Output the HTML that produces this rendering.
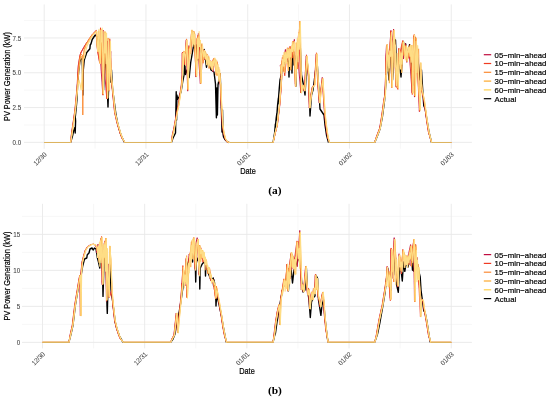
<!DOCTYPE html>
<html><head><meta charset="utf-8"><style>
html,body{margin:0;padding:0;background:#fff;width:550px;height:400px;overflow:hidden}
svg{display:block}
.gM{stroke:#e9e9e9;stroke-width:0.9}
.gm{stroke:#f2f2f2;stroke-width:0.6}
.sl{fill:none;stroke-width:0.95;stroke-linejoin:round;stroke-linecap:butt}
.tk{font-family:"Liberation Sans",sans-serif;font-size:6.8px;fill:#3c3c3c;stroke:#3c3c3c;stroke-width:0.05px}
.tt{font-family:"Liberation Sans",sans-serif;font-size:8.2px;fill:#000;stroke:#000;stroke-width:0.2px}
.lg{font-family:"Liberation Sans",sans-serif;font-size:7.9px;fill:#000;stroke:#000;stroke-width:0.2px}
.pl{font-family:"Liberation Serif",serif;font-size:11.4px;font-weight:bold;fill:#000}
.pn{font-weight:bold}
.tx{filter:url(#bl)}
</style></head><body>
<svg width="550" height="400" viewBox="0 0 550 400">
<defs><filter id="bl" x="-5%" y="-5%" width="110%" height="110%"><feGaussianBlur stdDeviation="0.35"/></filter><filter id="bl2" x="0" y="0" width="100%" height="100%" filterUnits="userSpaceOnUse"><feGaussianBlur stdDeviation="0.3"/></filter></defs>
<rect width="550" height="400" fill="#fff"/>
<line x1="24" x2="471.9" y1="124.95" y2="124.95" class="gm"/>
<line x1="24" x2="471.9" y1="90.15" y2="90.15" class="gm"/>
<line x1="24" x2="471.9" y1="55.35" y2="55.35" class="gm"/>
<line x1="24" x2="471.9" y1="20.55" y2="20.55" class="gm"/>
<line x1="95.08" x2="95.08" y1="4.4" y2="148.7" class="gm"/>
<line x1="196.84" x2="196.84" y1="4.4" y2="148.7" class="gm"/>
<line x1="298.6" x2="298.6" y1="4.4" y2="148.7" class="gm"/>
<line x1="400.36" x2="400.36" y1="4.4" y2="148.7" class="gm"/>
<line x1="24" x2="471.9" y1="142.35" y2="142.35" class="gM"/>
<line x1="24" x2="471.9" y1="107.55" y2="107.55" class="gM"/>
<line x1="24" x2="471.9" y1="72.75" y2="72.75" class="gM"/>
<line x1="24" x2="471.9" y1="37.95" y2="37.95" class="gM"/>
<line x1="44.2" x2="44.2" y1="4.4" y2="148.7" class="gM"/>
<line x1="145.96" x2="145.96" y1="4.4" y2="148.7" class="gM"/>
<line x1="247.72" x2="247.72" y1="4.4" y2="148.7" class="gM"/>
<line x1="349.48" x2="349.48" y1="4.4" y2="148.7" class="gM"/>
<line x1="451.24" x2="451.24" y1="4.4" y2="148.7" class="gM"/>
<line x1="22.06" x2="471.9" y1="324.4" y2="324.4" class="gm"/>
<line x1="22.06" x2="471.9" y1="288.4" y2="288.4" class="gm"/>
<line x1="22.06" x2="471.9" y1="252.4" y2="252.4" class="gm"/>
<line x1="22.06" x2="471.9" y1="216.4" y2="216.4" class="gm"/>
<line x1="93.59" x2="93.59" y1="203.8" y2="348.4" class="gm"/>
<line x1="195.78" x2="195.78" y1="203.8" y2="348.4" class="gm"/>
<line x1="297.98" x2="297.98" y1="203.8" y2="348.4" class="gm"/>
<line x1="400.16" x2="400.16" y1="203.8" y2="348.4" class="gm"/>
<line x1="22.06" x2="471.9" y1="342.4" y2="342.4" class="gM"/>
<line x1="22.06" x2="471.9" y1="306.4" y2="306.4" class="gM"/>
<line x1="22.06" x2="471.9" y1="270.4" y2="270.4" class="gM"/>
<line x1="22.06" x2="471.9" y1="234.4" y2="234.4" class="gM"/>
<line x1="42.5" x2="42.5" y1="203.8" y2="348.4" class="gM"/>
<line x1="144.69" x2="144.69" y1="203.8" y2="348.4" class="gM"/>
<line x1="246.88" x2="246.88" y1="203.8" y2="348.4" class="gM"/>
<line x1="349.07" x2="349.07" y1="203.8" y2="348.4" class="gM"/>
<line x1="451.26" x2="451.26" y1="203.8" y2="348.4" class="gM"/>
<g filter="url(#bl2)">
<path d="M70.6,142.5 72.5,136 73.8,130 74.9,127.5 75.2,133 75.6,121 75.3,117 76.2,108 76.9,100 77.6,85 78.6,72 79.8,62 81,58 82.2,60 82.6,75 82.9,95 83.3,70 84.25,60 86.75,52.5 89.9,48.75 90.2,45 91,43.75 92.2,39.5 95.2,35 96.7,36.5 98,50 99,40 100.5,60 102,45 103.5,90 105,50 106.5,75 107.5,95 108,107 109,75 110.5,82 111.5,70 112.5,88 114,100 116,115 118,125 121,135 124.5,142.5M171.4,142.5 173,138 174.5,135 175.5,133 175.9,110 176.2,91.7 176.6,120 176.9,95 177.7,99.2 179,97 181,92 183,80 184,75 184.7,62.5 185.5,74.5 187,70 189.2,77.5 190.7,62.5 192,55 193.7,44.5 194.5,48 196,45 197.5,60 199,45 201,52 204.2,49.5 206.5,67.2 208,58 211,70 214,72 215.5,84 216.4,117.8 216.9,88 217.4,115 218,85 220.2,73.75 220.9,95 221.4,110 222,132 222.5,110 223,134 223.5,137 224.9,139.4 227,141.5 229,142.5M273.1,142.5 273.8,138 274.6,133 275.4,124 275.1,130 276.2,118 276.9,113 276.5,120 277.6,105 278.4,98 278.1,104 279.3,88 280,80 281,76 283,66 285,60 287,58 288.6,62 289,77 289.4,62 291.5,55 292,73 292.4,55 293.8,55 294,65 294.4,55 295.6,60 296,86 296.4,60 298,50 300,40 301.5,75 303.5,85 305,95 307,60 309,80 310,116 311.5,95 313,90 317,60 320,109 322,112 324,115 325,125 326.5,135 328.5,142.5M374.7,142.5 377,137 380,129 382.5,116 384.5,101 386,82 387.5,55 389,80 391,45 392.5,80 394,50 395.5,40 397,80 399,60 401,77 403,50 403.4,41.5 405,55 405.6,43.8 407.5,55 409.6,44.6 411,55 413,85 414.5,40 416,45 418,60 420,80 421.5,70 423,95 423.8,106 425,108 427,120 429,132 431.5,142.5" stroke="#000" class="sl" style="stroke-width:1.4px"/>
<path d="M44.2,142.5 70.6,142.5 71.28,135 72.28,128 73.78,118 75.08,108 75.8,100 77,88 78.2,66 79.5,58 80.5,53.75 83.6,47.5 86.75,42.5 89.9,39.5 93,34 96.2,30.5 96.34,31.34 97.47,50.18 99.61,62.27 99.98,52.58 102.8,94.48 103.1,30.04 104.35,69.06 106.8,98.86 107.78,40.87 108.83,91.22 110.72,51.22 111.18,78.4 112.78,95 114.58,112.5 116.98,123 118.78,129 120.28,134 122.28,139 125,142.5 171.4,142.5 172.28,135 173.88,128 175.28,120 176.78,112 178.28,105 179.78,95 181.28,85 182.08,75 182.27,52.59 183.09,52.27 184.49,64.01 186.29,39.96 187.68,91.13 188.92,45.61 190.44,53.97 191.62,31.08 194.68,33.56 195.9,77.06 196.7,54.76 198.42,33.4 198.63,58.35 200.36,83.76 201.22,44.21 204.33,59.87 205.8,53.4 208.49,65.11 210.13,60.66 213.08,71.94 213.88,59.03 214.93,59.05 217.33,70.91 220.28,83.4 220.78,100 221.58,112 222.28,125 223.48,133 225.08,139 226.78,141.8 229.6,142.5 273.1,142.5 275.4,133 277.4,125 278.6,115 279.8,105 280.6,95 281.4,85 281.9,73.4 280.16,65.34 283.06,62.72 285.42,49.43 287.26,62.2 288.89,47.89 291.68,58.7 294.36,39.35 295.42,84.19 297.23,51.22 300.88,93 302.28,85 304.28,91 306.28,56 308.28,75 309.28,108 310.78,95 312.28,87 314.28,85 316.28,54 317.78,85 319.28,103 320.78,90 322.28,77.4 323.28,95 324.28,110 325.28,121 326.58,131 327.68,138 329.6,142.5 374.7,142.5 376.28,137 379.68,128 381.78,115 383.78,100 384.78,95 385.58,75 385.5,60.93 386.51,45.2 388.7,64.3 390.91,30.37 391.62,86.66 391.99,44.94 393.57,29.01 396.13,87.14 396.67,65.46 397.71,88.4 398.66,49.43 400.77,52.49 402.86,40.94 403.37,59.06 405.49,43.54 406.82,62.35 408.57,47.06 410.29,66.98 412.1,92.8 413.97,35.99 414.47,97.08 415.09,40.74 417.53,67.05 419.36,111.56 421.21,71.08 421.58,90 422.68,95 423.78,100 425.18,110 426.78,122 428.38,132 431.6,142.5 451.24,142.5" stroke="#C0103F" class="sl" style="stroke-width:0.9px"/>
<path d="M44.2,142.5 70.6,142.5 71.46,135 72.46,128 73.96,118 75.26,108 76,100 77.2,88 78.3,68 79.8,56 81,52 83,49 86,44 89,39 92.5,34 96.3,30.5 96.55,39.92 97.58,50.49 99.64,62.66 100.49,27.78 103.01,95.19 103.58,69.77 104.94,33.24 107.02,98.31 107.84,55.91 108.96,89.86 109.74,38.8 111.36,78.8 112.96,95 114.76,112.5 117.16,123 118.96,129 120.46,134 122.46,139 125,142.5 171.4,142.5 172.46,135 174.06,128 175.46,120 176.96,112 178.46,105 179.96,95 181.46,85 182.26,75 182.24,53.06 183.6,51.56 184.66,64.77 186.49,38.93 187.72,90.19 188.7,47.31 190.71,51.68 191.57,31.13 193.8,31.53 195.42,49.04 196.01,74.71 197.55,35.6 198.98,34.5 200.77,81.81 202.12,61.22 203.23,49.23 205.7,59.53 207.68,55.27 210.04,66.81 212.17,60.88 214.33,58.02 215.51,68.42 217.08,61.65 219.31,81.28 220.46,85 220.96,100 221.76,112 222.46,125 223.66,133 225.26,139 226.96,141.8 229.6,142.5 273.1,142.5 275.3,133 277.3,125 278.5,115 279.7,105 280.5,95 281.3,85 281.8,75 280.63,79.29 282.35,57.53 284.75,75.76 287.38,48.93 288.75,56.98 290.04,46.2 292.22,58.03 293.5,41.32 295.46,86.32 296.59,56.22 298.69,32.77 301.06,93 302.46,85 304.46,91 306.46,54.8 308.46,75 309.46,108 310.96,95 312.46,87 314.46,85 316.46,52.8 317.96,85 319.46,103 320.96,90 322.46,79 323.46,95 324.46,110 325.46,121 326.76,131 327.86,138 329.6,142.5 374.7,142.5 376.46,137 379.86,128 381.96,115 383.96,100 384.96,95 385.76,75 385.73,62.8 386.96,46 389.32,63.41 390.87,31.06 391.73,87.56 392.65,43.24 393.95,30.92 395.06,59.14 396.34,86.18 397.87,89.44 398.79,48.19 400.04,52.52 402.7,40.56 403.46,54.57 406.09,46.43 408.93,58.42 410.06,44.9 411.64,69.93 412.27,94.5 414.19,34.63 414.89,95.37 415.17,36.77 417.94,74.47 419.65,111.27 420.74,68.85 421.76,90 422.86,95 423.96,100 425.36,110 426.96,122 428.56,132 431.6,142.5 451.24,142.5" stroke="#F03B20" class="sl" style="stroke-width:0.9px"/>
<path d="M44.2,142.5 70.6,142.5 71.64,135 72.64,128 74.14,118 75.44,107.2 76.2,100 77.3,88 78.5,70 79.8,58 81,54 82.4,55 82.8,115 83.2,60 84,50 86,44.5 89,39.5 92.5,34.5 96.5,31 96.57,31.48 98,52.26 98.31,47.89 100.1,63.7 100.75,30.24 102.25,68.24 103.11,93.73 104.15,31.73 105.41,44.49 107.31,98.94 108.08,37.98 109.21,90.29 110.61,58.06 111.54,80 113.14,95 114.94,112.5 117.34,123 119.14,129 120.64,134 122.64,139 125,142.5 171.4,142.5 172.64,135 174.24,128 175.64,120 177.14,112 178.64,105 180.14,95 181.64,85 182.44,75 182.34,65.93 183.59,51.83 184.09,55.25 185.99,53.89 186.62,40.19 188.19,88.98 189.18,46.59 190.77,53.95 191.86,30.33 192.61,30.89 194.1,44.28 196.45,76.79 196.96,38.31 197.99,56.22 199.17,59.54 200.78,83.76 202.11,45.85 203.15,63.29 204.39,51.44 205.51,59.13 207.21,53.97 209.05,68.52 210.23,60.99 211.67,69.47 213.24,60.35 214.38,58.06 216.13,75.06 217.45,62.73 218.82,79.06 220.13,73.15 220.64,84.2 221.14,100 221.94,112 222.64,125 223.84,133 225.44,139 227.14,141.8 229.6,142.5 273.1,142.5 275.2,133 277.2,125 278.4,115 279.6,105 280.4,95 281.2,85 281.7,75 280.57,73.09 281.96,60.55 283.33,71.49 284.39,52.52 286.01,61.64 287.41,47.78 288.59,59.77 289.67,47.3 290.6,70.22 292.78,41.3 294.5,58.77 295.45,86.37 296.27,42.73 297.74,69.09 299.8,21.2 301.24,93 302.64,85 304.64,91 306.64,56 308.64,75 309.64,108 311.14,95 312.64,87 314.64,85 316.64,53.2 318.14,85 319.64,103 321.14,90 322.64,78.2 323.64,95 324.64,110 325.64,121 326.94,131 328.04,138 329.6,142.5 374.7,142.5 376.64,137 380.04,128 382.14,115 384.14,100 385.14,95 385.94,75 385.9,76.25 387.11,44.35 387.86,51.12 389.19,64.22 390.16,44.08 391.35,32.92 392.14,87.36 392.73,76.87 393.95,29.92 394.58,38.23 395.56,75.81 396.23,86.09 398.05,87.98 399.24,49.54 399.97,51.62 401.07,67.29 402.2,45.14 403.07,42.06 404.1,55.62 405.74,45.69 407.32,61.33 408.89,47.12 410.67,58.92 412.48,93.5 413.51,38.56 414.37,34.67 414.84,95.88 416.42,67.81 418.63,48.85 419.73,110.45 421.07,89.19 421.94,90 423.04,95 424.14,100 425.54,110 427.14,122 428.74,132 431.6,142.5 451.24,142.5" stroke="#FB8A33" class="sl" style="stroke-width:0.95px"/>
<path d="M44.2,142.5 70.6,142.5 71.82,135 72.82,128 74.32,118 75.62,107.6 76.3,100 77.5,85 78.5,75 80,60 81.5,56 82.4,62 82.6,90 82.9,62 84,52 86,45.5 89,40 92.5,35 96.5,31.5 96.78,44.89 98.19,51.98 98.76,30.76 100.25,63.06 100.93,56.52 101.74,29.32 103.24,94.28 104.21,67.89 105.18,31.55 106.74,63.13 107.71,97.87 108.67,38.5 109.36,90.42 110.14,59.36 111.72,80 113.32,95 115.12,112.5 117.52,123 119.32,129 120.82,134 122.82,139 125,142.5 171.4,142.5 172.82,135 174.42,128 175.82,120 177.32,112 178.82,105 180.32,95 181.82,85 182.62,75 182.57,70.19 183.78,51.14 185.4,51.82 186.8,39.71 188.26,89.28 188.67,63.69 190,44.84 191.9,30.07 192.8,43.85 194.21,31.53 195.42,49.16 196.34,75.76 198.02,36.48 199.26,61.09 201.16,82.86 201.9,43.49 203.51,59.58 205.03,50.86 206.94,65.26 208.78,56.48 209.86,65.03 211.09,61.28 212.89,68.73 214.34,57.94 215.56,60.61 216.98,76.09 218.75,67.22 219.88,75.45 220.82,85 221.32,100 222.12,112 222.82,125 224.02,133 225.62,139 227.32,141.8 229.6,142.5 273.1,142.5 275.1,133 277.1,125 278.3,115 279.5,105 280.3,95 281.1,85 281.6,75 280.8,65.93 281.75,73.55 283.1,54.95 284.69,72.89 286.23,51.36 288.29,71.05 289.26,48.22 290.84,69.58 292.39,42.21 293.49,52.4 295.63,86.38 296.71,42.88 297.57,55.28 298.74,34.88 300.29,21.8 301.42,93 302.82,85 304.82,91 306.82,56 308.82,75 309.82,108 311.32,95 312.82,87 314.82,85 316.82,54 318.32,85 319.82,103 321.32,90 322.82,78.6 323.82,95 324.82,110 325.82,121 327.12,131 328.22,138 329.6,142.5 374.7,142.5 376.82,137 380.22,128 382.32,115 384.32,100 385.32,95 386.12,75 386.16,79.64 387.21,44.95 388.19,55.37 389.36,83.18 390.79,38.3 391.49,32.36 391.95,87.09 393.06,63.45 394,30.26 395.51,48.07 396.36,85.39 397.17,73.36 398.18,88.27 399.36,49.85 400.6,53.8 401.79,72.8 403.38,41.48 403.91,43.23 405.15,58.25 406.29,45.21 407.38,61.91 409.12,46.49 410.77,56.21 411.9,45.02 412.91,93.21 413.58,71.61 414.6,35.15 415.3,96.16 416.3,37.75 418.23,83.62 420.11,109.98 420.78,62.73 422.12,90 423.22,95 424.32,100 425.72,110 427.32,122 428.92,132 431.6,142.5 451.24,142.5" stroke="#FEB855" class="sl" style="stroke-width:0.95px"/>
<path d="M44.2,142.5 70.6,142.5 72,135 73,128 74.5,118 75.8,108 76.5,100 77.8,88 79,80 80,84 81.1,90 81.8,80 82.4,68 82.6,62 83,60 84.25,58 85.5,52.5 87,46 90,40 93,35 96.7,31.2 97,31.61 97.53,49.76 98.01,51.5 99,29.36 99.42,52.8 100.26,63.5 100.87,30.06 101.43,41.96 102.13,28.11 102.79,62.84 103.47,93.8 103.99,31.41 104.78,52.92 105.3,33.05 106.13,63.71 106.57,33.04 107.74,98 108.17,60.95 108.6,39.91 109.69,90 110.06,63.54 110.46,41.27 110.97,68.89 111.9,80 113.5,95 115.3,112.5 117.7,123 119.5,129 121,134 123,139 125,142.5 171.4,142.5 173,135 174.6,128 176,120 177.5,112 179,105 180.5,95 182,85 182.8,75 182.8,53.24 183.37,64.89 183.92,51.5 185.02,55.13 185.5,65.12 186.33,47 186.85,40 187.8,65.96 188.22,89.7 189.33,48.84 189.91,58.53 190.87,43.06 192.08,30 192.76,46.28 193.61,31.81 194.23,44.59 194.93,34.05 195.38,51.4 196.83,76 197.64,38.59 198.11,58.29 199.1,31.5 199.5,46.59 200.47,40.4 201.09,83 201.73,54.97 202.63,45.69 203.62,56.83 204.57,50.34 205.22,58.99 206.08,52.76 206.58,64.42 207.53,55.17 208.46,66.23 209.29,58.14 209.99,65.84 210.59,61.12 211.1,68.13 211.71,61.65 212.6,70.19 213.1,60.07 213.88,65.38 214.86,58 215.22,58.7 216,71.85 216.67,60.05 217.26,73.27 218.09,64.65 218.8,81.27 219.73,69.7 220.17,81.71 221,85 221.5,100 222.3,112 223,125 224.2,133 225.8,139 227.5,141.8 229.6,142.5 273.1,142.5 275,133 277,125 278.2,115 279.4,105 280.2,95 281,85 281.5,75 281,65.02 281.83,78.51 282.54,58.93 283.5,66.32 284.14,52.23 285.02,64.01 285.63,52.65 286.44,62.86 287.25,48.92 287.84,58.03 288.78,48.9 289.53,66.44 290.19,48.93 290.87,56.95 291.61,45.88 292.44,51.62 293.08,41.98 294.02,50.88 294.68,41.58 295.94,86 296.52,60.49 297.24,38.51 298.07,61.8 298.68,33.4 299.33,49.25 300.39,22 301.6,93 303,85 305,91 307,56 309,75 310,108 311.5,95 313,87 315,85 317,54 318.5,85 320,103 321.5,90 323,79 324,95 325,110 326,121 327.3,131 328.4,138 329.6,142.5 374.7,142.5 377,137 380.4,128 382.5,115 384.5,100 385.5,95 386.3,75 386.3,61.89 387.18,45 387.88,71.32 388.33,55.09 389.32,68.06 389.78,50.72 390.75,56.53 391.63,32 392.34,87.3 393.23,43.14 394.43,30.3 394.89,67 395.36,45.04 395.94,72.95 396.55,85.7 397.23,53.39 398.33,88.1 399.48,49.5 400.46,68.95 401.33,53.17 401.93,64.15 403.28,41.9 404.36,45.55 405.29,59.93 406.23,46.24 407.05,61.21 407.83,47.6 408.38,52.3 409.12,47.07 409.95,56.25 410.45,44.94 411.13,62.25 412.11,45.89 413,93 413.41,53.79 414.56,35 415.48,96.2 416.19,41.21 416.8,72.41 417.71,45.67 418.66,80 420.31,110 420.89,62.9 421.37,82.67 422.3,90 423.4,95 424.5,100 425.9,110 427.5,122 429.1,132 431.6,142.5 451.24,142.5" stroke="#FEDD85" class="sl" style="stroke-width:1.1px"/>
<path d="M68.9,342.4 71,334 73,325 75.4,305 77.9,290 79.5,281 81,276 82.7,266 84.5,259 86.8,258 87.2,255 88,254 89,253 90,249 92,248 93.3,250 94.5,248 96,249 97.3,257.5 98.5,262 99.8,268 100.5,255 101.5,245 102.5,270 103,296.4 104,262 105,255 106,248 107,306 107.3,313.4 108,285 109,275 110,265 111,290 112.5,300 114,312 115.2,322 117,329 119.5,336 123,342.4M170.6,342.4 173,339 175,334 177,321 179,313 181,301 182.7,289 184,280 186,270 188,263 190,257 192.3,249 192.6,262 193.2,250 195.3,262 195.7,282 196.2,262 198,258 199.5,270 199.8,289 200.3,268 202.2,264 204,262 205.2,264 205.5,276 205.9,264 207,268 209,275 211,280 213.3,278 213.6,286 214.1,280 215.6,290 216,306 216.6,296 217.5,298 219,304 221.5,316 223.5,328 226.3,342.4M273,342.4 274.5,336 275.5,333 277,322 279,310 281,298 283,288 285,282 287,278 288.4,290.7 289.5,275 291,268 292.5,283 294,270 296,265 298,260 300,255 301.5,280 303,292 305,290 306.3,266.8 307.5,290 309,300 310.3,317.5 311.5,302 313,298 315,296 316,275.3 317.6,278.6 318.5,300 320.9,315.4 322,305 323.5,300 325,318 327,335 328,342.4M374.7,342.4 377.5,334 380,322 382.5,308 385,293 387.7,268 389,285 391,290 392,255 393.5,275 395,250 396.7,285 398.3,292.3 399.5,268 401,270 402.3,281 403.5,262 404.8,271.3 406.4,262 408,267.2 409.5,260 411.3,252 412.5,270 413.7,271 414.5,250 416,255 418,268 420.2,277 421,290 423.8,311 425,312 427,322 429,335 430.3,342.4" stroke="#000" class="sl" style="stroke-width:1.4px"/>
<path d="M42.5,342.4 68.9,342.4 70.28,334 72.28,325 74.68,305 77.18,290 78.78,280 79.78,275 80.38,315.8 80.98,272 81.98,262 83.78,255 85.28,250 87.28,247 89.28,245.5 91.28,244.5 93.38,244.3 95.28,245 96.58,248 96.7,252.87 98,244.12 99.79,253.81 101.22,237.98 102.17,284.63 104.24,242.94 105.75,239.97 106.45,301.44 108.16,263.88 108.82,297.08 111.58,290.4 112.78,305 114.48,320 116.28,328 118.58,335 120.28,339 123.3,342.4 170.6,342.4 171.78,339 173.88,335 175.28,322 176.28,313 177.48,333 178.58,320 179.58,310 180.78,298 181.98,283.4 181.74,286.02 182.96,268.76 184.91,285.91 186.16,258.55 186.78,296.74 189.05,254.11 191.84,259.32 193.24,239.08 195.05,268.65 195.63,244.24 197.19,237.71 199.08,274.7 199.51,245.22 202.01,258.4 204.15,253.15 205.85,269.76 208.02,267.15 210.63,280.64 212.29,279.97 214.03,287.54 215.45,296.47 216.98,292 218.78,302 220.98,315 222.78,327 224.28,335 226.6,342.4 273,342.4 273.78,336 275.48,322 277.08,312 278.78,305 279.58,324.8 280.48,300 281.98,290 282.11,292.82 283.84,279.89 284.03,280.43 285.98,283.41 286.76,264.45 287.69,291.2 289.47,264.39 291.06,253.77 291.38,270.08 294.22,262.02 296.72,242.58 297.22,266.69 299.78,230.43 300.31,260.87 301.28,290 302.28,285 303.28,292 304.28,282 305.58,266.4 306.48,285 307.58,295 308.48,288.4 309.58,309 310.48,298 311.48,292 312.48,300 313.48,288 314.48,294 315.28,275.3 316.28,290 316.88,278.6 317.88,296 318.88,300 320.18,307 321.08,300 321.78,296 322.58,292.3 323.48,302 324.28,315 325.78,330 328.2,342.4 374.7,342.4 376.28,335 378.88,320 380.58,312 382.18,305 383.28,298 384.58,290 385.78,282 385.98,286.13 387.11,266.4 389,272.22 390.28,298.31 391.02,249.32 391.97,278.51 394.19,237.68 394.63,249.38 396.62,268.49 397.48,287.08 399.05,253.75 399.73,258.24 401.91,264.4 402.87,251.44 404.71,255.1 406.08,263.1 408.76,253.23 410.58,244.58 411.07,266.1 413.77,240.45 414.47,300.4 415.07,244.19 417.49,270.77 420.78,300 422.68,300 423.78,308 425.98,320 428.38,335 430.7,342.4 451.26,342.4" stroke="#C0103F" class="sl" style="stroke-width:0.9px"/>
<path d="M42.5,342.4 68.9,342.4 70.46,334 72.46,325 74.86,305 77.36,290 78.96,280 79.96,275 80.56,315.8 81.16,272 82.16,262 83.96,255 85.46,250 87.46,247 89.46,245.5 91.46,244.5 93.56,244.3 95.46,245 96.76,248 97.11,250.9 99.56,251.98 101.55,236.53 102.26,282.57 104.08,245.22 105.77,238.82 106.55,298.77 107.92,276.27 109.12,297.74 111.76,292 112.96,305 114.66,320 116.46,328 118.76,335 120.46,339 123.3,342.4 170.6,342.4 171.96,339 174.06,335 175.46,322 176.46,313 177.66,333 178.76,320 179.76,310 180.96,298 182.16,283.8 181.98,285.77 182.88,265.59 185.4,283.04 186.45,257.44 186.9,297.71 188.74,259.65 190.98,248.96 192.97,238.85 193.67,238.97 195.17,269.66 195.97,260.08 197.52,239.68 199.31,265.76 200.83,247.72 202.88,262.35 204.93,257.88 207.77,270.06 209.02,267.78 211.09,281.01 213.14,279.19 215.51,298.78 216.02,293.56 217.16,292 218.96,302 221.16,315 222.96,327 224.46,335 226.6,342.4 273,342.4 273.96,336 275.66,322 277.26,312 278.96,305 279.76,324.8 280.66,300 282.16,290 282.18,290.02 283.8,278.85 285.55,284.17 287.18,264.09 287.89,290.38 288.62,268.02 290.01,279.03 291.17,252.84 293.57,257.47 295.97,259.04 296.85,241.02 299.08,242.32 301.46,290 302.46,283.8 303.46,292 304.46,282 305.76,266.4 306.66,285 307.76,295 308.66,288.8 309.76,309 310.66,298 311.66,292 312.66,300 313.66,288 314.66,294 315.46,274.1 316.46,290 317.06,278.6 318.06,296 319.06,300 320.36,307 321.26,300 321.96,296 322.76,292.3 323.66,302 324.46,315 325.96,330 328.2,342.4 374.7,342.4 376.46,335 379.06,320 380.76,312 382.36,305 383.46,298 384.76,290 385.96,282 385.85,282.58 387.29,266.81 389.23,285.18 390.35,300.67 391.08,247.97 392.72,261.59 394.36,240.67 395.97,267.99 397.86,286.35 399.25,255.63 400.04,257.7 401.36,273.9 402.82,249.36 403.45,251.26 404.97,265.56 407.36,256.73 408.98,264.74 410.84,246.87 411.7,251.95 413.82,240.37 414.76,302 415.26,267.07 416.85,257.02 418.94,285.75 420.43,316.74 420.96,300 422.86,300 423.96,308 426.16,320 428.56,335 430.7,342.4 451.26,342.4" stroke="#F03B20" class="sl" style="stroke-width:0.9px"/>
<path d="M42.5,342.4 68.9,342.4 70.64,334 72.64,325 75.04,305 77.54,290 79.14,280 80.14,275 80.74,315.8 81.34,272 82.34,262 84.14,255 85.64,250 87.64,247 89.64,245.5 91.64,244.5 93.74,244.3 95.64,245 96.94,248 97.03,250.87 98.63,252.57 100.5,241.4 101.45,237.85 102.57,284.63 103.56,265.12 104.97,244.14 105.97,238.04 106.63,300.63 107.41,277.72 109.3,296.7 109.76,246.09 110.74,259.64 111.94,292 113.14,305 114.84,320 116.64,328 118.94,335 120.64,339 123.3,342.4 170.6,342.4 172.14,339 174.24,335 175.64,322 176.64,313 177.84,333 178.94,320 179.94,310 181.14,298 182.34,284.2 182.37,285.99 183.33,267.83 184.62,280.19 186.63,255.72 187.37,297.29 187.98,265.39 189.89,260.45 191.39,241.72 192.45,258.86 193.8,237.3 194.68,243.32 195.44,270.19 196.7,254.61 197.93,239.05 199.33,275.32 199.74,245.63 200.86,258.98 202.25,250.01 204.53,259.19 206.01,260.7 207.87,273.89 209.69,268.69 211.65,280.69 212.72,279.62 214.01,284.94 215.75,298.85 216.44,286.04 217.34,292 219.14,302 221.34,315 223.14,327 224.64,335 226.6,342.4 273,342.4 274.14,336 275.84,322 277.44,312 279.14,304.2 279.94,324.8 280.84,300 282.34,289.2 282.26,290.6 284.07,279.97 284.73,286.4 287.3,264.61 287.86,291.04 288.9,270.38 291.28,252.95 291.77,266.56 293.42,256.21 294.54,273.26 296.13,249.75 297,241.59 298.34,259.32 299.96,232.98 300.46,252.47 301.64,290 302.64,284.2 303.64,292 304.64,282 305.94,266.4 306.84,285 307.94,295 308.84,289.2 309.94,309 310.84,298 311.84,292 312.84,300 313.84,288 314.84,294 315.64,275.3 316.64,290 317.24,278.6 318.24,296 319.24,300 320.54,307 321.44,300 322.14,296 322.94,292.3 323.84,302 324.64,315 326.14,330 328.2,342.4 374.7,342.4 376.64,335 379.24,320 380.94,312 382.54,305 383.64,298 384.94,290 386.14,282 386.06,282.73 387.3,268.03 388.96,280.13 390.8,299.61 391.63,249.51 392.26,256.22 393.77,281.99 394.72,240.52 395.34,249.48 397.12,273.65 397.79,285.8 399.57,254.98 400.35,259.62 401.95,266.32 403.06,250.62 404.54,253.79 405.83,260.96 406.95,255.93 408.42,262.75 409.37,253.09 410.85,245.61 411.48,266.64 414.03,239.23 415.06,301.49 415.83,244.67 416.56,266.38 418.14,264.01 419.73,288.61 421.14,300 423.04,300 424.14,308 426.34,320 428.74,335 430.7,342.4 451.26,342.4" stroke="#FB8A33" class="sl" style="stroke-width:0.95px"/>
<path d="M42.5,342.4 68.9,342.4 70.82,334 72.82,325 75.22,305 77.72,290 79.32,280 80.32,275 80.92,315.8 81.52,272 82.52,262 84.32,255 85.82,250 87.82,247 89.82,245.5 91.82,244.5 93.92,244.3 95.82,245 97.12,248 97.35,250.46 99.1,262.72 100.31,240.85 101.9,237.32 102.92,284.3 103.69,272.39 104.95,243.46 106.12,238.35 106.73,299.9 107.42,259.72 109.25,296.94 109.98,246.07 110.79,259.06 111.73,278.28 112.12,292 113.32,305 115.02,320 116.82,328 119.12,335 120.82,339 123.3,342.4 170.6,342.4 172.32,339 174.42,335 175.82,322 176.82,313 178.02,333 179.12,320 180.12,310 181.32,298 182.52,285 182.57,286.19 183.47,266.59 184.62,279.95 185.91,264.84 186.52,257.16 187.41,297.87 188.4,277.61 189.86,253.36 190.76,267.12 192.1,240.34 193.16,250.95 193.89,238.43 195.51,270.08 196.31,246.43 198.11,239.18 198.91,264.32 199.76,245.28 200.66,262.01 202.41,249.99 204.17,261.82 206.09,259.29 207.22,269.8 208.61,267.42 210.12,278.22 210.99,274.99 212.02,281.01 213.31,280.49 214.96,290.4 215.99,297.55 216.89,288.42 217.52,292 219.32,302 221.52,315 223.32,327 224.82,335 226.6,342.4 273,342.4 274.32,336 276.02,322 277.62,312 279.32,305 280.12,324.8 281.02,300 282.52,290 282.51,294.5 284.25,279.81 284.8,280.61 286.34,288.14 287.57,263.99 288.3,290.31 289.63,264.97 290.73,275.81 291.46,252.2 292.56,255.08 293.61,268.26 294.52,260.96 295.74,274.34 297.17,242.2 297.92,246.78 299.34,262.74 300.11,232.43 301.15,265.41 301.82,290 302.82,284.6 303.82,292 304.82,282 306.12,266.4 307.02,285 308.12,295 309.02,289.6 310.12,309 311.02,298 312.02,291.6 313.02,300 314.02,288 315.02,294 315.82,274.9 316.82,290 317.42,278.6 318.42,296 319.42,300 320.72,307 321.62,300 322.32,296 323.12,291.9 324.02,302 324.82,315 326.32,330 328.2,342.4 374.7,342.4 376.82,335 379.42,320 381.12,312 382.72,305 383.82,298 385.12,290 386.32,282 386.32,282.57 387.42,267.67 388.28,286.62 389.73,271.49 390.99,299.23 391.56,249.33 392.23,272.16 393.89,256.1 394.7,239.12 396.09,274.82 398.14,286.21 398.82,258.53 399.59,254.6 400.83,270.7 401.98,258.56 403.19,250.5 404.27,267.63 405.95,255.06 407.33,262.66 408.6,256.56 411.14,246.22 411.89,260.89 414.17,239.2 415.02,301.26 415.81,246.66 417.09,267.06 419,267.54 420.92,316.52 421.32,300 423.22,300 424.32,308 426.52,320 428.92,335 430.7,342.4 451.26,342.4" stroke="#FEB855" class="sl" style="stroke-width:0.95px"/>
<path d="M42.5,342.4 68.9,342.4 71,334 73,325 75.4,305 77.9,290 79.5,280 80.5,275 81.1,315.8 81.7,272 82.7,262 84.5,255 86,250 88,247 90,245.5 92,244.5 94.1,244.3 96,245 97.3,248 97.5,257.53 98.27,245.69 98.84,253.13 99.34,242.52 99.78,266.22 100.39,240.77 101.12,262.79 102.13,237.2 102.87,284 103.7,244.59 104.23,257.1 104.92,242.58 105.62,271.21 106.24,238.8 107.01,300 107.49,248.44 107.96,269.93 109.33,297 109.87,246 110.95,259.32 111.46,277.77 112.3,292 113.5,305 115.2,320 117,328 119.3,335 121,339 123.3,342.4 170.6,342.4 172.5,339 174.6,335 176,322 177,313 178.2,333 179.3,320 180.3,310 181.5,298 182.7,285 182.7,286.09 183.5,267 184.26,287.6 185.02,274.83 185.99,284.09 186.63,256.7 187.45,298 188.59,263.45 189.17,272.82 189.68,256.16 190.13,264.19 190.95,245.35 191.51,259.62 192.5,239.29 193.23,259.35 194.04,238 195.02,242.16 195.75,270 196.39,255.03 196.88,245.46 198.02,239.6 198.61,265.55 199.77,276 200,246.4 200.95,253.82 201.53,249.33 202.27,257.64 203,250.63 203.52,259.35 204.42,252.42 204.87,269.93 205.43,257.06 205.96,264.67 206.72,261.06 207.41,267.63 207.89,265.73 208.54,272.99 209.22,267.53 210.21,277.19 210.95,273.77 211.6,283.25 212.46,279.18 213.12,282.05 213.97,280.91 214.62,284.75 215.31,283.75 216.15,298 216.81,290.73 217.7,292 219.5,302 221.7,315 223.5,327 225,335 226.6,342.4 273,342.4 274.5,336 276.2,322 277.8,312 279.5,305 280.3,324.8 281.2,300 282.7,290 282.7,292.18 283.64,284.39 284.34,279.4 285.18,291.15 285.73,280.81 286.67,288.68 287.52,264 288.41,290.7 288.96,271.7 289.82,283.95 290.57,261.74 291.83,252.6 292.45,267.4 293.04,255.68 293.72,268.6 294.51,259.45 295.12,274.77 295.71,257.08 296.4,260.71 297.34,242 297.95,248.45 298.49,258.33 299.17,248.58 299.66,268.19 300.37,232.3 301,257.61 302,290 303,285 304,292 305,282 306.3,266.4 307.2,285 308.3,295 309.2,290 310.3,309 311.2,298 312.2,292 313.2,300 314.2,288 315.2,294 316,275.3 317,290 317.6,278.6 318.6,296 319.6,300 320.9,307 321.8,300 322.5,296 323.3,292.3 324.2,302 325,315 326.5,330 328.2,342.4 374.7,342.4 377,335 379.6,320 381.3,312 382.9,305 384,298 385.3,290 386.5,282 386.5,285.5 387,275.91 387.52,267.2 388.77,286.89 389.53,275.06 390.33,279.03 390.89,299.6 391.89,249.4 392.55,257.73 393.12,278.65 393.87,256.87 394.96,239.6 395.7,284.78 396.7,259.41 397.38,270.03 398.42,286 398.94,256.93 399.78,255 400.45,266.94 401.38,261.91 402.09,271.8 403.59,250.2 404.25,253.82 404.91,267.48 405.38,255.28 406.3,264.94 406.84,256.48 407.65,267.5 408.1,256.3 409.08,262.89 409.76,252.81 410.31,259.31 411.36,246.1 411.82,250.58 412.73,262.53 413.45,252.44 414.48,239.6 415.18,301.2 415.85,258.28 416.38,250.32 417.03,281.66 417.51,260.01 418.32,279.63 419.01,267.24 419.63,284.81 420.91,316.7 421.5,300 423.4,300 424.5,308 426.7,320 429.1,335 430.7,342.4 451.26,342.4" stroke="#FEDD85" class="sl" style="stroke-width:1.1px"/>
<path d="M44.2,142.5H70.6M125,142.5H171.4M229.6,142.5H273.1M329.6,142.5H374.7M431.6,142.5H451.24" stroke="#DDB45E" stroke-width="1.1" fill="none"/>
<path d="M42.5,342.4H68.9M123.3,342.4H170.6M226.6,342.4H273M328.2,342.4H374.7M430.7,342.4H451.26" stroke="#DDB45E" stroke-width="1.1" fill="none"/>
</g>
<g class="tx">
<text class="tk" text-anchor="end" transform="translate(21.2,144.95) scale(0.92,1)">0.0</text>
<text class="tk" text-anchor="end" transform="translate(21.2,110.15) scale(0.92,1)">2.5</text>
<text class="tk" text-anchor="end" transform="translate(21.2,75.35) scale(0.92,1)">5.0</text>
<text class="tk" text-anchor="end" transform="translate(21.2,40.55) scale(0.92,1)">7.5</text>
<text class="tk" text-anchor="end" transform="translate(47.2,155) rotate(-45) scale(0.92,1)">12/30</text>
<text class="tk" text-anchor="end" transform="translate(148.96,155) rotate(-45) scale(0.92,1)">12/31</text>
<text class="tk" text-anchor="end" transform="translate(250.72,155) rotate(-45) scale(0.92,1)">01/01</text>
<text class="tk" text-anchor="end" transform="translate(352.48,155) rotate(-45) scale(0.92,1)">01/02</text>
<text class="tk" text-anchor="end" transform="translate(454.24,155) rotate(-45) scale(0.92,1)">01/03</text>
<text class="tt" text-anchor="middle" transform="translate(247.95,174) scale(0.9,1)">Date</text>
<text class="tt" text-anchor="middle" transform="translate(9.7,76.55) rotate(-90) scale(0.9,1)">PV Power Generation (kW)</text>
<text class="tk" text-anchor="end" transform="translate(20.2,345) scale(0.92,1)">0</text>
<text class="tk" text-anchor="end" transform="translate(20.2,309) scale(0.92,1)">5</text>
<text class="tk" text-anchor="end" transform="translate(20.2,273) scale(0.92,1)">10</text>
<text class="tk" text-anchor="end" transform="translate(20.2,237) scale(0.92,1)">15</text>
<text class="tk" text-anchor="end" transform="translate(45.5,354.7) rotate(-45) scale(0.92,1)">12/30</text>
<text class="tk" text-anchor="end" transform="translate(147.69,354.7) rotate(-45) scale(0.92,1)">12/31</text>
<text class="tk" text-anchor="end" transform="translate(249.88,354.7) rotate(-45) scale(0.92,1)">01/01</text>
<text class="tk" text-anchor="end" transform="translate(352.07,354.7) rotate(-45) scale(0.92,1)">01/02</text>
<text class="tk" text-anchor="end" transform="translate(454.26,354.7) rotate(-45) scale(0.92,1)">01/03</text>
<text class="tt" text-anchor="middle" transform="translate(246.98,373.7) scale(0.9,1)">Date</text>
<text class="tt" text-anchor="middle" transform="translate(9.7,276.1) rotate(-90) scale(0.9,1)">PV Power Generation (kW)</text>
<line x1="483.8" x2="491.2" y1="54.7" y2="54.7" stroke="#C0103F" stroke-width="1.2"/>
<text class="lg" transform="translate(494.6,57.6) scale(0.985,1)">05−min−ahead</text>
<line x1="483.8" x2="491.2" y1="63.5" y2="63.5" stroke="#F03B20" stroke-width="1.2"/>
<text class="lg" transform="translate(494.6,66.4) scale(0.985,1)">10−min−ahead</text>
<line x1="483.8" x2="491.2" y1="72.3" y2="72.3" stroke="#FB8A33" stroke-width="1.2"/>
<text class="lg" transform="translate(494.6,75.2) scale(0.985,1)">15−min−ahead</text>
<line x1="483.8" x2="491.2" y1="81.1" y2="81.1" stroke="#FCA82C" stroke-width="1.2"/>
<text class="lg" transform="translate(494.6,84) scale(0.985,1)">30−min−ahead</text>
<line x1="483.8" x2="491.2" y1="89.9" y2="89.9" stroke="#FDCF4C" stroke-width="1.2"/>
<text class="lg" transform="translate(494.6,92.8) scale(0.985,1)">60−min−ahead</text>
<line x1="483.8" x2="491.2" y1="98.7" y2="98.7" stroke="#000000" stroke-width="1.2"/>
<text class="lg" transform="translate(494.6,101.6) scale(0.985,1)">Actual</text>
<line x1="483.8" x2="491.2" y1="254.6" y2="254.6" stroke="#C0103F" stroke-width="1.2"/>
<text class="lg" transform="translate(494.6,257.5) scale(0.985,1)">05−min−ahead</text>
<line x1="483.8" x2="491.2" y1="263.4" y2="263.4" stroke="#F03B20" stroke-width="1.2"/>
<text class="lg" transform="translate(494.6,266.3) scale(0.985,1)">10−min−ahead</text>
<line x1="483.8" x2="491.2" y1="272.2" y2="272.2" stroke="#FB8A33" stroke-width="1.2"/>
<text class="lg" transform="translate(494.6,275.1) scale(0.985,1)">15−min−ahead</text>
<line x1="483.8" x2="491.2" y1="281" y2="281" stroke="#FCA82C" stroke-width="1.2"/>
<text class="lg" transform="translate(494.6,283.9) scale(0.985,1)">30−min−ahead</text>
<line x1="483.8" x2="491.2" y1="289.8" y2="289.8" stroke="#FDCF4C" stroke-width="1.2"/>
<text class="lg" transform="translate(494.6,292.7) scale(0.985,1)">60−min−ahead</text>
<line x1="483.8" x2="491.2" y1="298.6" y2="298.6" stroke="#000000" stroke-width="1.2"/>
<text class="lg" transform="translate(494.6,301.5) scale(0.985,1)">Actual</text>
<text x="274.9" y="194.4" class="pl" text-anchor="middle"><tspan class="pn">(</tspan>a<tspan class="pn">)</tspan></text>
<text x="274.9" y="394.4" class="pl" text-anchor="middle"><tspan class="pn">(</tspan>b<tspan class="pn">)</tspan></text>
</g>
</svg>
</body></html>
